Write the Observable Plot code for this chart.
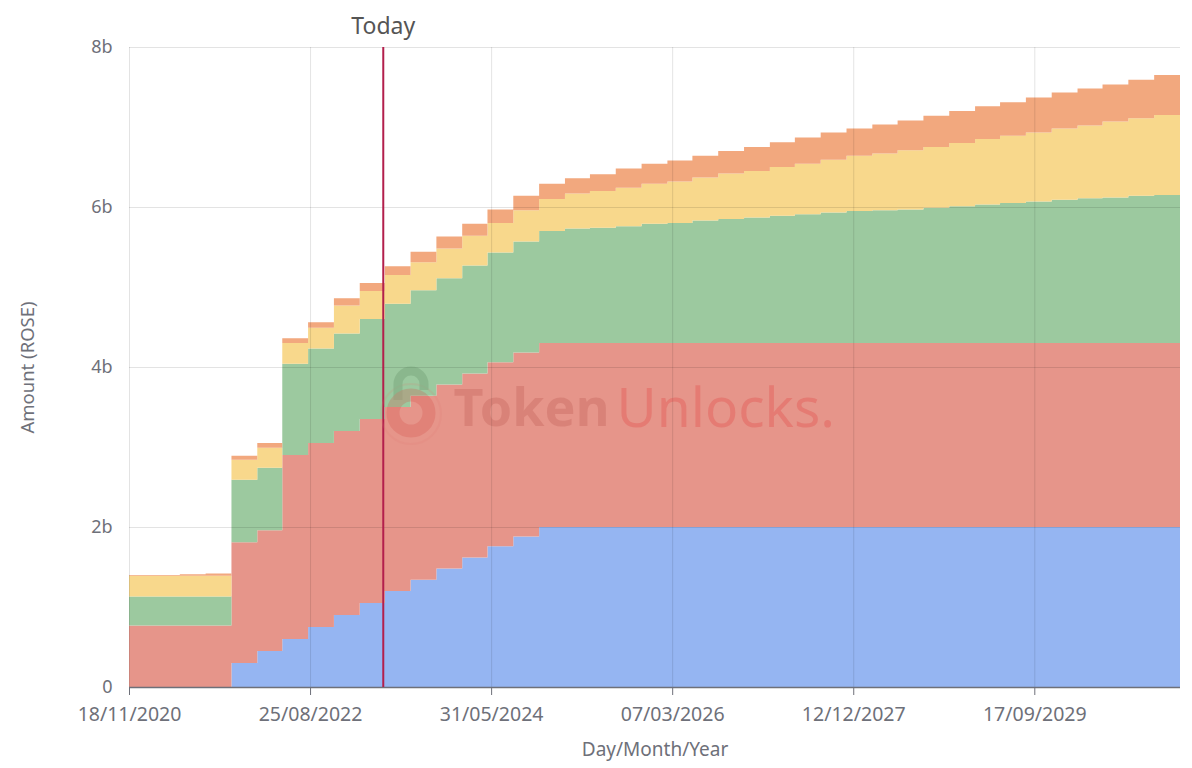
<!DOCTYPE html>
<html>
<head>
<meta charset="utf-8">
<script src="https://cdn.jsdelivr.net/npm/d3@7"></script>
<script src="https://cdn.jsdelivr.net/npm/@observablehq/plot@0.6"></script>
<style>
  body { margin: 0; background: #fff; font-family: "Noto Sans", sans-serif; }
  #chart svg { display: block; }
</style>
</head>
<body>
<div id="chart"></div>
<script>
// ---- Data (billions of ROSE unlocked per allocation, step dates) ----
const dates = [
  "2020-11-18","2021-05-18","2021-08-18","2021-11-18","2022-02-18","2022-05-18","2022-08-18","2022-11-18",
  "2023-02-18","2023-05-18","2023-08-18","2023-11-18","2024-02-18","2024-05-18","2024-08-18","2024-11-18",
  "2025-02-18","2025-05-18","2025-08-18","2025-11-18","2026-02-18","2026-05-18","2026-08-18","2026-11-18",
  "2027-02-18","2027-05-18","2027-08-18","2027-11-18","2028-02-18","2028-05-18","2028-08-18","2028-11-18",
  "2029-02-18","2029-05-18","2029-08-18","2029-11-18","2030-02-18","2030-05-18","2030-08-18","2030-11-18",
  "2031-02-18"
];
const seriesNames = ["Core Contributors", "Backers", "Community & Ecosystem", "Strategic Partners & Reserve", "Foundation Endowment"];
const seriesColors = ["#95b5f2", "#e6958a", "#9cc99f", "#f8d88c", "#f2a87e"];

const coreContributors = [0,0,0,0.30,0.45,0.60,0.75,0.90,1.05,1.20,1.34,1.48,1.62,1.76,1.88,2.00,
  2.00,2.00,2.00,2.00,2.00,2.00,2.00,2.00,2.00,2.00,2.00,2.00,2.00,2.00,2.00,2.00,2.00,2.00,2.00,2.00,2.00,2.00,2.00,2.00,2.00];
const backers = [0.77,0.77,0.77,1.51,1.51,2.30,2.30,2.30,2.30,2.30,2.30,2.30,2.30,2.30,2.30,2.30,
  2.30,2.30,2.30,2.30,2.30,2.30,2.30,2.30,2.30,2.30,2.30,2.30,2.30,2.30,2.30,2.30,2.30,2.30,2.30,2.30,2.30,2.30,2.30,2.30,2.30];
const community = [0.36,0.36,0.36,0.78,0.78,1.14,1.18,1.22,1.25,1.29,1.32,1.33,1.35,1.37,1.39,1.40,
  1.43,1.44,1.46,1.49,1.50,1.53,1.55,1.57,1.59,1.61,1.63,1.65,1.66,1.67,1.69,1.71,1.73,1.75,1.77,1.79,1.81,1.82,1.84,1.85,1.85];
const strategic = [0.26,0.26,0.26,0.25,0.25,0.26,0.26,0.35,0.35,0.36,0.35,0.37,0.37,0.37,0.39,0.40,
  0.44,0.46,0.48,0.50,0.52,0.54,0.57,0.58,0.61,0.63,0.66,0.69,0.71,0.74,0.76,0.79,0.82,0.84,0.86,0.89,0.91,0.95,0.97,1.00,1.00];
const foundation = [0.01,0.02,0.03,0.05,0.06,0.06,0.07,0.09,0.10,0.11,0.13,0.15,0.15,0.17,0.18,0.19,
  0.19,0.21,0.24,0.25,0.26,0.27,0.28,0.30,0.31,0.33,0.34,0.34,0.36,0.37,0.39,0.40,0.41,0.42,0.44,0.45,0.46,0.46,0.48,0.50,0.50];

const xTickDates = ["2020-11-18","2022-08-25","2024-05-31","2026-03-07","2027-12-12","2029-09-17"];
const yTicks = [0, 2, 4, 6, 8];
const yTickLabels = ["0", "2b", "4b", "6b", "8b"];
const todayDate = "2023-05-11";
const xDomain = ["2020-11-18", "2031-02-18"];
const xTitle = "Day/Month/Year";
const yTitle = "Amount (ROSE)";

// ---- Build tidy table ----
const seriesValues = [coreContributors, backers, community, strategic, foundation];
const rows = [];
seriesNames.forEach((name, si) => {
  dates.forEach((d, i) => rows.push({date: new Date(d), series: name, value: seriesValues[si][i]}));
});
const pad = n => String(n).padStart(2, "0");
const fmtDate = d => `${pad(d.getUTCDate())}/${pad(d.getUTCMonth() + 1)}/${d.getUTCFullYear()}`;
const xTicks = xTickDates.map(d => new Date(d));
const today = new Date(todayDate);
const axisColor = "#6e7079";
const font = "Noto Sans";

const chart = Plot.plot({
  width: 1192,
  height: 768,
  marginLeft: 129,
  marginRight: 12,
  marginTop: 47,
  marginBottom: 81,
  style: {fontFamily: font, background: "#fff"},
  x: {type: "utc", domain: xDomain.map(d => new Date(d)), label: null},
  y: {domain: [0, 8], label: null},
  color: {domain: seriesNames, range: seriesColors},
  marks: [
    Plot.areaY(rows, {x: "date", y: "value", fill: "series", order: seriesNames, curve: "step-after"}),
    Plot.gridX(xTicks, {stroke: "#000", strokeOpacity: 0.11, strokeWidth: 1}),
    Plot.gridY(yTicks, {stroke: "#000", strokeOpacity: 0.11, strokeWidth: 1}),
    Plot.text(["Token"], {frameAnchor: "top-left", dx: 324, dy: 362, text: d => d, fontSize: 52, fontWeight: 700,
      fill: "#9a2a22", fillOpacity: 0.17, textAnchor: "start", lineAnchor: "middle"}),
    Plot.text(["Unlocks."], {frameAnchor: "top-left", dx: 487, dy: 362, text: d => d, fontSize: 55, fontWeight: 400,
      fill: "#e23a3a", fillOpacity: 0.28, textAnchor: "start", lineAnchor: "middle"}),
    Plot.ruleY([0], {stroke: axisColor, strokeWidth: 1.5}),
    Plot.axisX(xTicks, {tickSize: 8, tickPadding: 12, tickFormat: fmtDate, fontSize: 19.5, fill: axisColor, stroke: axisColor, label: null}),
    Plot.axisY(yTicks, {tickSize: 0, tickPadding: 17, tickFormat: d => yTickLabels[yTicks.indexOf(d)], fontSize: 18, fill: axisColor, label: null}),
    Plot.text([xTitle], {frameAnchor: "bottom", dy: 62, text: d => d, fontSize: 19, fill: axisColor, textAnchor: "middle", lineAnchor: "middle"}),
    Plot.text([yTitle], {frameAnchor: "left", dx: -101, text: d => d, fontSize: 18.5, fill: axisColor, rotate: -90, textAnchor: "middle", lineAnchor: "middle"}),
    Plot.ruleX([today], {stroke: "#b31f4c", strokeWidth: 2}),
    Plot.text([today], {x: d => d, frameAnchor: "top", dy: -14, text: () => "Today", fontSize: 23, fill: "#555", lineAnchor: "bottom"})
  ]
});

// enforce tick label sizes
const svg = d3.select(chart);
svg.selectAll("g[aria-label='x-axis tick label'] text").style("font-size", "19.5px");
svg.selectAll("g[aria-label='y-axis tick label'] text").style("font-size", "18px");

// faint lock icon of the watermark
const g = svg.append("g").attr("opacity", 0.45);
g.append("circle").attr("cx", 411).attr("cy", 414).attr("r", 30).attr("fill", "none").attr("stroke", "#e07a72").attr("stroke-opacity", 0.35).attr("stroke-width", 2);
g.append("path").attr("d", "M 398 400 L 398 384 A 13 13 0 0 1 424 384 L 424 390")
  .attr("fill", "none").attr("stroke", "#5c8a60").attr("stroke-width", 9).attr("stroke-opacity", 0.6);
g.append("circle").attr("cx", 411).attr("cy", 413).attr("r", 18).attr("fill", "none").attr("stroke", "#d64a45").attr("stroke-width", 13).attr("stroke-opacity", 0.55);

document.getElementById("chart").appendChild(chart);
</script>
</body>
</html>
